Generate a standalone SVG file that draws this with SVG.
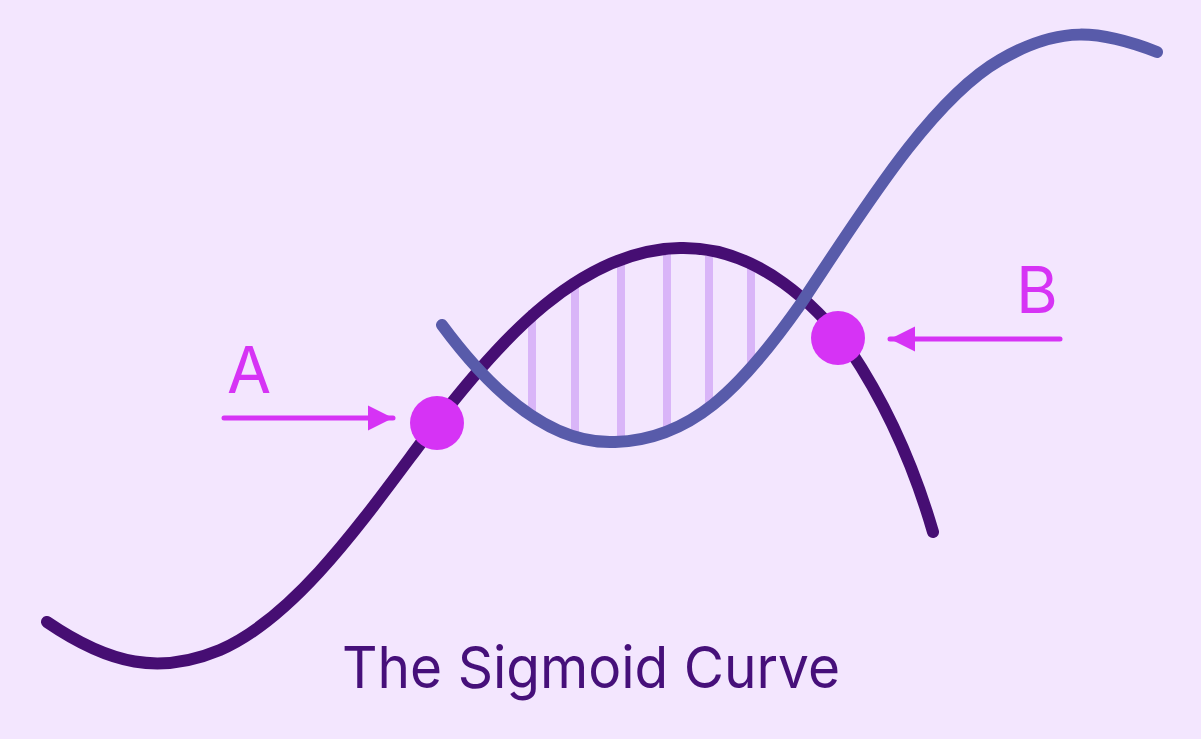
<svg xmlns="http://www.w3.org/2000/svg" width="1201" height="739" viewBox="0 0 1201 739">
<defs>
<style>
.curve{fill:none;stroke-width:12;stroke-linecap:round}
.hatch{stroke:#d9b5f8;stroke-width:8}
.arrow{stroke:#d633f5;stroke-width:5;stroke-linecap:round}
.lbl{font-family:Inter,"Liberation Sans",sans-serif;fill:#d633f5;font-size:64px}
.title{font-family:Inter,"Liberation Sans",sans-serif;fill:#46107a;font-size:58px}
.pt{fill:#d633f5}
</style>
<marker id="ah" viewBox="0 0 10 10" refX="10" refY="5" markerWidth="5" markerHeight="5.4" orient="auto" markerUnits="strokeWidth">
<path d="M0,0 L10,5 L0,10 Z" fill="#d633f5"/>
</marker>
</defs>
<rect width="1201" height="739" fill="#f3e6fe"/>
<g id="hatching">
<line class="hatch" x1="532" y1="310" x2="532" y2="415"/>
<line class="hatch" x1="575" y1="280" x2="575" y2="435"/>
<line class="hatch" x1="621" y1="262" x2="621" y2="440"/>
<line class="hatch" x1="667" y1="252" x2="667" y2="435"/>
<line class="hatch" x1="709" y1="256" x2="709" y2="412"/>
<line class="hatch" x1="751" y1="268" x2="751" y2="368"/>
</g>
<g id="connectors">
<path id="dark-curve" class="curve" stroke="#460e73" d="M47,622 C110,665 160,675 220,650 C300,615 370,510 436,423 C500,340 580,250 680,248 C760,246 820,310 850,350 C890,410 915,470 933,532"/>
<path id="blue-curve" class="curve" stroke="#585baa" d="M442,325 C490,390 550,445 615,442 C690,440 740,390 800,305 C860,215 930,100 1000,60 C1060,25 1100,30 1157,52"/>
<line class="arrow" x1="224" y1="418" x2="393" y2="418" marker-end="url(#ah)"/>
<line class="arrow" x1="1060" y1="339" x2="890" y2="339" marker-end="url(#ah)"/>
</g>
<g id="point-a">
<circle class="pt" cx="437" cy="423" r="27"/>
<text class="lbl" x="227" y="393">A</text>
</g>
<g id="point-b">
<circle class="pt" cx="838" cy="338" r="27"/>
<text class="lbl" x="1016" y="313">B</text>
</g>
<g id="title">
<text class="title" x="342" y="688" textLength="498" lengthAdjust="spacingAndGlyphs">The Sigmoid Curve</text>
</g>
</svg>
